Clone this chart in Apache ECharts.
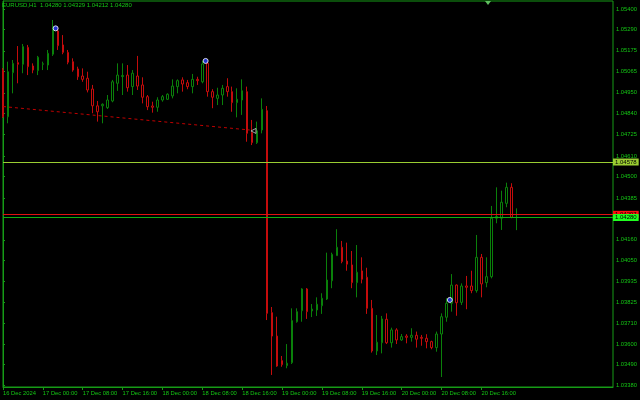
<!DOCTYPE html>
<html><head><meta charset="utf-8">
<script src="https://cdn.jsdelivr.net/npm/echarts/dist/echarts.min.js"></script>
<style>html,body{margin:0;padding:0;background:#000;}#c{width:640px;height:400px;}</style>
</head><body><div id="c"></div>
<script>
// EURUSD H1, bar index 0 = 16 Dec 2024 16:00
const opens = [1.05072,1.04821,1.05058,1.05112,1.05103,1.05194,1.05094,1.05069,1.05103,1.05099,
1.05157,1.05282,1.05207,1.05167,1.05117,1.05078,1.05040,1.05028,1.04970,1.04880,
1.04880,1.04870,1.04906,1.05001,1.05037,1.05045,1.04983,1.05040,1.04992,1.04929,
1.04879,1.04872,1.04911,1.04915,1.04933,1.04983,1.05019,1.05004,1.04983,1.05022,
1.05009,1.05108,1.04956,1.04920,1.04938,1.04983,1.04956,1.04897,1.04911,1.04956,
1.04736,1.04682,1.04750,1.04854,1.03769,1.03643,1.03511,1.03484,1.03500,1.03720,
1.03779,1.03896,1.03778,1.03783,1.03806,1.03842,1.03940,1.04075,1.04120,1.04046,
1.04025,1.03930,1.03993,1.03959,1.03792,1.03563,1.03607,1.03733,1.03607,1.03676,
1.03622,1.03643,1.03636,1.03647,1.03636,1.03631,1.03613,1.03581,1.03654,1.03744,
1.03819,1.03917,1.03824,1.03912,1.03912,1.03887,1.04066,1.03930,1.03962,1.04276,
1.04276,1.04356,1.04442,1.04280];
const closes = [1.04821,1.05063,1.05108,1.05103,1.05198,1.05090,1.05072,1.05141,1.05106,1.05162,
1.05305,1.05203,1.05167,1.05114,1.05072,1.05036,1.05022,1.04965,1.04880,1.04848,
1.04888,1.04911,1.05009,1.05045,1.05043,1.04977,1.05055,1.04986,1.04926,1.04875,
1.04872,1.04911,1.04929,1.04942,1.04986,1.05015,1.04997,1.04983,1.05022,1.05015,
1.05105,1.04956,1.04926,1.04938,1.04974,1.04956,1.04897,1.04915,1.04961,1.04732,
1.04682,1.04746,1.04861,1.03765,1.03643,1.03482,1.03489,1.03497,1.03726,1.03774,
1.03896,1.03774,1.03788,1.03814,1.03846,1.03944,1.04082,1.04120,1.04043,1.04029,
1.03930,1.03986,1.03948,1.03792,1.03563,1.03610,1.03735,1.03607,1.03676,1.03622,
1.03640,1.03636,1.03647,1.03626,1.03631,1.03613,1.03581,1.03654,1.03747,1.03819,
1.03917,1.03822,1.03912,1.03905,1.03887,1.04066,1.03923,1.03962,1.04276,1.04285,
1.04362,1.04442,1.04281,1.04280];
const highs = [1.05083,1.05117,1.05126,1.05201,1.05212,1.05207,1.05108,1.05148,1.05117,1.05180,
1.05341,1.05298,1.05260,1.05180,1.05135,1.05090,1.05081,1.05063,1.04992,1.04906,
1.04893,1.04938,1.05019,1.05108,1.05108,1.05099,1.05072,1.05148,1.05033,1.04938,
1.04902,1.04926,1.04938,1.04947,1.05022,1.05022,1.05033,1.05019,1.05051,1.05036,
1.05122,1.05117,1.04969,1.04977,1.04992,1.05028,1.04983,1.04974,1.05022,1.04983,
1.04804,1.04795,1.04920,1.04879,1.03799,1.03747,1.03536,1.03600,1.03792,1.03792,
1.03900,1.03901,1.03815,1.03851,1.03873,1.04091,1.04091,1.04217,1.04154,1.04145,
1.04100,1.04132,1.04066,1.04010,1.03837,1.03756,1.03751,1.03765,1.03688,1.03685,
1.03654,1.03653,1.03685,1.03667,1.03649,1.03653,1.03618,1.03667,1.03765,1.03846,
1.03976,1.03920,1.03926,1.03966,1.03994,1.04186,1.04084,1.04066,1.04342,1.04442,
1.04424,1.04467,1.04464,1.04329];
const lows = [1.04815,1.04786,1.04947,1.05001,1.05055,1.05045,1.05055,1.05045,1.05072,1.05072,
1.05148,1.05180,1.05157,1.05103,1.05063,1.05019,1.05009,1.04952,1.04840,1.04795,
1.04786,1.04863,1.04899,1.04960,1.04938,1.04956,1.04938,1.04965,1.04893,1.04857,
1.04843,1.04848,1.04902,1.04911,1.04920,1.04947,1.04956,1.04969,1.04947,1.04992,
1.05001,1.04929,1.04867,1.04884,1.04884,1.04929,1.04848,1.04818,1.04831,1.04687,
1.04669,1.04675,1.04732,1.03729,1.03434,1.03478,1.03478,1.03470,1.03493,1.03715,
1.03720,1.03735,1.03745,1.03751,1.03762,1.03837,1.03900,1.04075,1.04034,1.03994,
1.03900,1.03851,1.03926,1.03762,1.03554,1.03541,1.03550,1.03600,1.03581,1.03600,
1.03617,1.03604,1.03613,1.03581,1.03591,1.03577,1.03572,1.03559,1.03423,1.03720,
1.03774,1.03752,1.03810,1.03787,1.03873,1.03876,1.03851,1.03905,1.03953,1.04249,
1.04213,1.04335,1.04276,1.04212];

const yTicks = [1.03380,1.03490,1.03600,1.03710,1.03825,1.03935,1.04050,1.04160,1.04385,1.04500,1.04610,1.04725,1.04840,1.04950,1.05065,1.05175,1.05290,1.05400];
const xTickBars = [0,8,16,24,32,40,48,56,64,72,80,88,96];
const xTickLabels = ['16 Dec 2024','17 Dec 00:00','17 Dec 08:00','17 Dec 16:00','18 Dec 00:00','18 Dec 08:00','18 Dec 16:00','19 Dec 00:00','19 Dec 08:00','19 Dec 16:00','20 Dec 00:00','20 Dec 08:00','20 Dec 16:00'];
const trendLine = [[0, 1.04876], [49.5, 1.04750]];
const blueMarks = [[10.56, 1.05296], [40.66, 1.05121], [89.66, 1.03837]];
const greyMarks = [[50.26, 1.04745]];
const levelLine = 1.04578, askPrice = 1.04297, bidPrice = 1.04280;
const header = 'EURUSD,H1  1.04280 1.04329 1.04212 1.04280';

const FG = '#14c814', AX = '#169b16', FONT = 'Liberation Sans';
const X_MIN = 0, X_MAX = 122.4;
const candles = opens.map((o, i) => [i, o, closes[i], lows[i], highs[i]]);

function hLine(price, lineColor, boxColor) {
  return [
    {coord: [X_MIN, price], lineStyle: {color: lineColor, type: 'solid', width: 1},
      label: {formatter: price.toFixed(5), backgroundColor: boxColor}},
    {coord: [X_MAX, price]}
  ];
}

const chart = echarts.init(document.getElementById('c'), null, {renderer: 'canvas'});
chart.setOption({
  backgroundColor: '#000',
  animation: false,
  title: {text: header, left: 2, top: 2, padding: 0,
    textStyle: {color: FG, fontSize: 6, fontWeight: 'normal', fontFamily: FONT}},
  grid: {left: 1, right: 27, top: 1, bottom: 13, show: true, borderColor: AX, borderWidth: 1},
  xAxis: {
    type: 'value', min: X_MIN, max: X_MAX,
    axisLine: {show: true, lineStyle: {color: AX}},
    axisTick: {show: true, length: 3, lineStyle: {color: AX}, customValues: xTickBars},
    axisLabel: {show: true, customValues: xTickBars, color: FG, fontSize: 5.8, fontFamily: FONT,
      align: 'left', margin: 3, showMinLabel: true,
      formatter: v => xTickLabels[xTickBars.indexOf(Math.round(v))] || ''},
    splitLine: {show: false}
  },
  yAxis: {
    type: 'value', position: 'right', min: 1.033693, max: 1.054430,
    axisLine: {show: true, lineStyle: {color: AX}},
    axisTick: {show: true, length: 2, lineStyle: {color: AX}, customValues: yTicks},
    axisLabel: {show: true, customValues: yTicks, color: FG, fontSize: 5.8, fontFamily: FONT, margin: 3,
      formatter: v => v.toFixed(5)},
    splitLine: {show: false}
  },
  graphic: [{type: 'polygon', shape: {points: [[485, 1], [491, 1], [488, 5]]}, style: {fill: '#5fbf5f'}}],
  series: [
    {
      type: 'candlestick', data: candles, encode: {x: 0, y: [1, 2, 3, 4]},
      barWidth: 2,
      itemStyle: {color: '#000', color0: '#000', borderColor: '#0a800a', borderColor0: '#c40c0c',
        borderColorDoji: '#0a800a', borderWidth: 1}
    },
    {
      type: 'line', data: trendLine, symbol: 'none', silent: true,
      lineStyle: {color: '#c00000', width: 1, type: [3, 3]},
      markLine: {
        silent: true, symbol: 'none', animation: false, precision: 5,
        label: {position: 'end', distance: 0, fontSize: 6, fontFamily: FONT, padding: [1, 2, 0, 2], color: '#000'},
        data: [
          hLine(levelLine, '#9acd32', '#9acd32'),
          hLine(askPrice, '#e01010', '#ff1010'),
          hLine(bidPrice, '#10b010', '#20ff20')
        ]
      }
    },
    {
      type: 'scatter', data: blueMarks, symbol: 'circle', symbolSize: 5,
      itemStyle: {color: '#2a40ff', borderColor: '#ffffff', borderWidth: 1}
    },
    {
      type: 'scatter', data: greyMarks, symbol: 'triangle', symbolRotate: 90, symbolSize: 5,
      itemStyle: {color: '#000', borderColor: '#c8c8c8', borderWidth: 1}
    }
  ]
});
</script>
</body></html>
